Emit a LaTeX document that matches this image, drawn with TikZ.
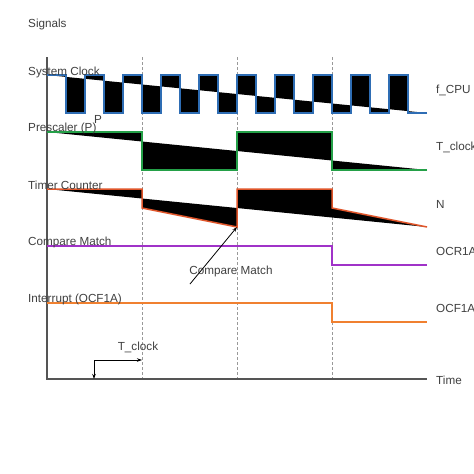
\documentclass[tikz,border=0pt]{standalone}
\usepackage{fontspec}
\setmainfont{Liberation Sans}
\usetikzlibrary{arrows.meta}
\definecolor{txt}{HTML}{404040}
\definecolor{axisc}{HTML}{555555}
\definecolor{dashc}{HTML}{999999}
\definecolor{clkc}{HTML}{2E6DB4}
\definecolor{prec}{HTML}{24A048}
\definecolor{cntc}{HTML}{E0552A}
\definecolor{cmpc}{HTML}{A032C8}
\definecolor{intc}{HTML}{F08030}
\begin{document}
\begin{tikzpicture}[x=1pt,y=-1pt,
  lbl/.style={font=\fontsize{11.7}{14}\selectfont, text=txt, inner sep=0pt},
  sig/.style={line width=1.5pt, line join=miter},
  guide/.style={dashc, line width=1pt, dash pattern=on 3pt off 2pt},
  axisline/.style={axisc, line width=1.5pt},
  ann/.style={black, line width=0.8pt}]
\useasboundingbox (0,0) rectangle (474,474);
\fill[white] (0,0) rectangle (474,474);

% guides
\foreach \gx in {142,237,332} \draw[guide] (\gx,57) -- (\gx,379);

% axes
\coordinate (otop) at (47,57);
\coordinate (orig) at (47,379);
\coordinate (xend) at (427,379);
\draw[axisline] (otop) -- (orig) -- (xend);

% system clock
\fill[black] (47,75) -- (66,75) -- (66,113) -- (85,113) -- (85,75) -- (104,75) -- (104,113) -- (123,113) -- (123,75) -- (142,75) -- (142,113) -- (161,113) -- (161,75) -- (180,75) -- (180,113) -- (199,113) -- (199,75) -- (218,75) -- (218,113) -- (237,113) -- (237,75) -- (256,75) -- (256,113) -- (275,113) -- (275,75) -- (294,75) -- (294,113) -- (313,113) -- (313,75) -- (332,75) -- (332,113) -- (351,113) -- (351,75) -- (370,75) -- (370,113) -- (389,113) -- (389,75) -- (408,75) -- (408,113) -- (427,113) -- cycle;
\draw[sig, clkc] (47,75) -- (66,75) -- (66,113) -- (85,113) -- (85,75) -- (104,75) -- (104,113) -- (123,113) -- (123,75) -- (142,75) -- (142,113) -- (161,113) -- (161,75) -- (180,75) -- (180,113) -- (199,113) -- (199,75) -- (218,75) -- (218,113) -- (237,113) -- (237,75) -- (256,75) -- (256,113) -- (275,113) -- (275,75) -- (294,75) -- (294,113) -- (313,113) -- (313,75) -- (332,75) -- (332,113) -- (351,113) -- (351,75) -- (370,75) -- (370,113) -- (389,113) -- (389,75) -- (408,75) -- (408,113) -- (427,113);

% prescaler
\fill[black] (47,132) -- (142,132) -- (142,170) -- (237,170) -- (237,132) -- (332,132) -- (332,170) -- (427,170) -- cycle;
\draw[sig, prec] (47,132) -- (142,132) -- (142,170) -- (237,170) -- (237,132) -- (332,132) -- (332,170) -- (427,170);

% timer counter
\fill[black] (47,189) -- (142,189) -- (142,208) -- (237,227) -- (237,189) -- (332,189) -- (332,208) -- (427,227) -- cycle;
\draw[sig, cntc] (47,189) -- (142,189) -- (142,208) -- (237,227) -- (237,189) -- (332,189) -- (332,208) -- (427,227);
\coordinate (match) at (237,227);

% compare match
\draw[sig, cmpc] (47,246) -- (332,246) -- (332,265) -- (427,265);

% interrupt
\draw[sig, intc] (47,303) -- (332,303) -- (332,322) -- (427,322);

% left labels
\node[lbl, anchor=west] (lsig) at (28,24) {Signals};
\node[lbl, anchor=west] (lclk) at (28,72) {System Clock};
\node[lbl, anchor=west] (lpre) at (28,128) {Prescaler (P)};
\node[lbl, anchor=west] (lcnt) at (28,185) {Timer Counter};
\node[lbl, anchor=west] (lcmp) at (28,242) {Compare Match};
\node[lbl, anchor=west] (lint) at (28,299) {Interrupt (OCF1A)};
\node[lbl] (lp) at (98,119) {P};

% right labels
\node[lbl, anchor=west] (rclk) at (436,90) {f\_CPU};
\node[lbl, anchor=west] (rpre) at (436,147) {T\_clock};
\node[lbl, anchor=west] (rcnt) at (436,204) {N};
\node[lbl, anchor=west] (rcmp) at (436,251) {OCR1A};
\node[lbl, anchor=west] (rint) at (436,308) {OCF1A};
\node[lbl, anchor=west] (rtime) at (436,380) {Time};

% compare match annotation
\node[lbl] (acmp) at (231,271) {Compare Match};
\coordinate (atail) at (190,284);
\draw[ann, -{Stealth[length=5pt,width=3.5pt]}] (atail) -- (match);

% T_clock annotation
\node[lbl] (atclk) at (138,347) {T\_clock};
\coordinate (tcA) at (94,379);
\coordinate (tcB) at (142,360);
\draw[ann, {Stealth[length=5pt,width=3.5pt]}-{Stealth[length=5pt,width=3.5pt]}] (tcA) |- (tcB);
\end{tikzpicture}
\end{document}
